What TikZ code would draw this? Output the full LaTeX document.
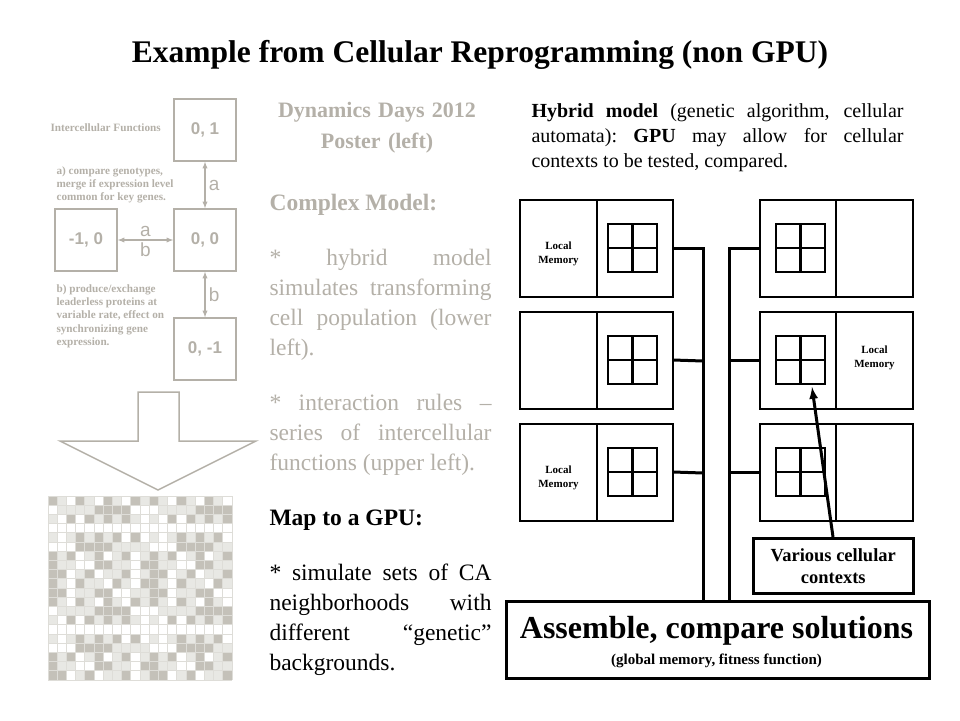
\documentclass[tikz,border=0pt]{standalone}
\usepackage{fontspec}
\setmainfont{Liberation Serif}
\newfontfamily\sans{Liberation Sans}
\usetikzlibrary{positioning}
\definecolor{PaleGray}{RGB}{180,176,168}
\definecolor{CellDark}{RGB}{196,193,185}
\definecolor{CellLight}{RGB}{232,232,228}

\begin{document}
\hyphenpenalty=10000 \exhyphenpenalty=10000
\begin{tikzpicture}[x=1pt, y=-1pt]%
    %
    \tikzstyle{pe} = [draw = black, line width = 2.5pt]%
    \tikzstyle{bus} = [draw = black, line width = 3pt]%
    \tikzstyle{cellbox} = [draw = PaleGray, line width = 1.3pt, minimum size = 62pt, inner sep = 0pt, text = PaleGray, font = \sans\bfseries\fontsize{17}{17}\selectfont]%
    \tikzstyle{link} = [<->, >=latex, draw = PaleGray, line width = 1.3pt]%
    \tikzstyle{linklabel} = [text = PaleGray, font = \sans\fontsize{19}{19}\selectfont]%
    \tikzstyle{mem} = [align = center, font = \bfseries\fontsize{11}{14}\selectfont]%
    \tikzstyle{note} = [text = PaleGray, align = left, anchor = north west, font = \bfseries\fontsize{11.2}{13.3}\selectfont]%
    %
    \useasboundingbox (0,0) rectangle (960,720);%
    \node [font = \bfseries\fontsize{31.5}{36}\selectfont] (title) at (480,55) {Example from Cellular Reprogramming (non GPU)};%
    %
    % intercellular functions (upper left)
    \node [cellbox] (up) at (205,130) {0, 1};%
    \node [cellbox] (mid) at (205,240) {0, 0};%
    \node [cellbox] (left) at (86,240) {-1, 0};%
    \node [cellbox] (down) at (205,349) {0, -1};%
    \draw [link] (up) -- node [right, linklabel] {a} (mid);%
    \draw [link] (mid) -- node [right, linklabel] {b} (down);%
    \draw [link] (left) -- node [above = -1pt, linklabel] {a} node [below = -1pt, linklabel] {b} (mid);%
    \node [note, anchor = west] (functions) at (47,128) {Intercellular Functions};%
    \node [note] (rule-a) at (53,163) {a) compare genotypes,\\merge if expression level\\common for key genes.};%
    \node [note] (rule-b) at (53,281) {b) produce/exchange\\leaderless proteins at\\variable rate, effect on\\synchronizing gene\\expression.};%
    %
    % big arrow
    \draw [draw = PaleGray, line width = 1.5pt] (138,392) -- (179,392) -- (179,441) -- (256,441) -- (158,490) -- (60,441) -- (138,441) -- cycle;%
    %
    % cell population (lower left)
    \foreach \i in {0,...,19} {%
        \foreach \j in {0,...,19} {%
            \pgfmathtruncatemacro{\shade}{mod(\i*37 + \j*91 + \i*\j*17 + \j*\j*5, 11)}%
            \ifnum\shade<4 \def\cellcol{CellDark}\else\ifnum\shade<8 \def\cellcol{CellLight}\else\def\cellcol{white}\fi\fi%
            \fill [\cellcol] (48+\i*9.2, 496+\j*9.2) rectangle ++(9.2,9.2);%
        }%
    }%
    \foreach \k in {0,...,20} {%
        \draw [draw = CellLight!80!PaleGray, line width = 0.8pt] (48+\k*9.2,496) -- (48+\k*9.2,680);%
        \draw [draw = CellLight!80!PaleGray, line width = 0.8pt] (48,496+\k*9.2) -- (232,496+\k*9.2);%
    }%
    %
    % middle text
    \node [text = PaleGray, text width = 222pt, align = center, font = \bfseries\fontsize{22}{31}\selectfont, anchor = north] (poster) at (377,99) {Dynamics Days 2012\\Poster (left)};%
    \node [text = PaleGray, text width = 222pt, align = justify, font = \fontsize{23.5}{30}\selectfont, anchor = north west] (model) at (266,191) {\textbf{Complex Model:}\\[25pt]* hybrid model simulates transforming cell population (lower left).\\[25pt]* interaction rules -- series of intercellular functions (upper left).};%
    \node [text width = 222pt, align = justify, font = \fontsize{23.5}{30}\selectfont, anchor = north west] (gpu) at (266,506) {\textbf{Map to a GPU:}\\[25pt]* simulate sets of CA neighborhoods with different ``genetic'' backgrounds.};%
    \node [text width = 372pt, align = justify, font = \fontsize{20}{25}\selectfont, anchor = north west] (hybrid) at (528,100) {\textbf{Hybrid model} (genetic algorithm, cellular automata):~\textbf{GPU} may allow for cellular contexts to be tested, compared.};%
    %
    % processing elements
    \foreach \r/\y in {1/200, 2/312, 3/424} {%
        \draw [pe] (520,\y) rectangle (673,\y+97);%
        \draw [pe] (597,\y) -- (597,\y+97);%
        \draw [pe] (608,\y+24) rectangle (657,\y+72);%
        \draw [pe] (632.5,\y+24) -- (632.5,\y+72) (608,\y+48) -- (657,\y+48);%
        \draw [pe] (760,\y) rectangle (913,\y+97);%
        \draw [pe] (836,\y) -- (836,\y+97);%
        \draw [pe] (776,\y+24) rectangle (825,\y+72);%
        \draw [pe] (800.5,\y+24) -- (800.5,\y+72) (776,\y+48) -- (825,\y+48);%
        \coordinate (L\r) at (673,\y+48);%
        \coordinate (R\r) at (760,\y+48);%
    }%
    \node [mem] (mem-a) at (558.5,254) {Local\\Memory};%
    \node [mem] (mem-b) at (558.5,478) {Local\\Memory};%
    \node [mem] (mem-c) at (874.5,358) {Local\\Memory};%
    %
    \node [draw = black, line width = 2.5pt, minimum width = 423pt, minimum height = 77pt, anchor = north west, inner sep = 0pt] (assemble) at (505,600) {};%
    \node [font = \bfseries\fontsize{32}{36}\selectfont] (assemble-text) at (716.5,631) {Assemble, compare solutions};%
    \node [font = \bfseries\fontsize{15}{17}\selectfont] (assemble-sub) at (716.5,661) {(global memory, fitness function)};%
    \node [draw = black, line width = 2.5pt, minimum width = 160pt, minimum height = 55pt, anchor = north west, inner sep = 0pt, align = center, font = \bfseries\fontsize{18.5}{22}\selectfont] (contexts) at (752,537) {Various cellular\\contexts};%
    %
    \draw [bus] (L1) -- (703,248) -- (703,600);%
    \draw [bus] (L2) -- (703,361);%
    \draw [bus] (L3) -- (703,473);%
    \draw [bus] (R1) -- (729,248) -- (729,600);%
    \draw [bus] (R2) -- (729,360);%
    \draw [bus] (R3) -- (729,472);%
    \draw [-latex, line width = 3pt] (833,537) -- (812,387);%
    %
\end{tikzpicture}
\end{document}
